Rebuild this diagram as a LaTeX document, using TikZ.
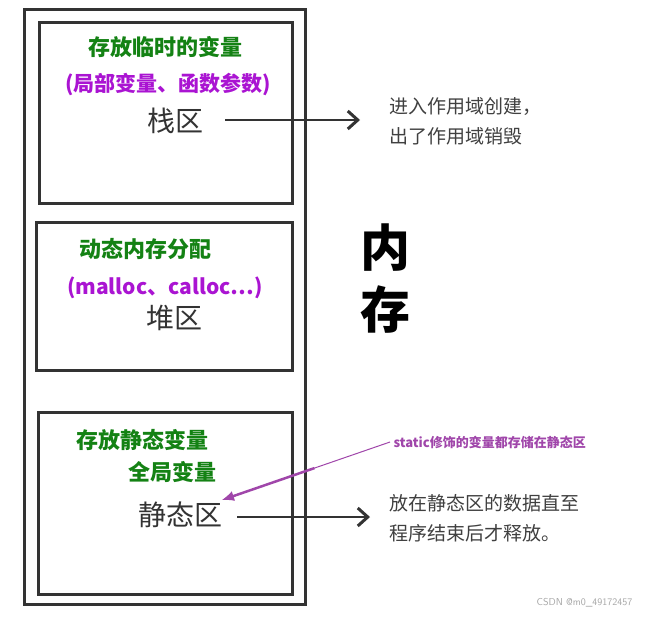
\documentclass[tikz,border=0pt]{standalone}
\usepackage{fontspec}
\newfontfamily\cjk{Noto Sans CJK SC}
\usetikzlibrary{arrows.meta,calc}
\definecolor{hgreen}{RGB}{20,130,20}
\definecolor{hpurp}{RGB}{170,20,210}
\definecolor{spurp}{RGB}{160,70,170}
\begin{document}
\begin{tikzpicture}[x=1pt,y=-1pt,font=\cjk,
  box/.style={draw=black!80,line width=3pt},
  area/.style={font=\cjk\fontsize{28}{30}\selectfont,text=black!80},
  note/.style={font=\cjk\fontsize{19}{30}\selectfont,text=black!75,align=left,anchor=west},
  hg/.style={font=\cjk\bfseries\fontsize{22}{24}\selectfont,text=hgreen},
  hp/.style={font=\cjk\bfseries\fontsize{21}{24}\selectfont,text=hpurp},
  arr/.style={-{Straight Barb[length=10pt,width=18pt,line width=3pt]},line width=2.5pt,draw=black!80}]
\useasboundingbox (0,0) rectangle (648,616);
\fill[white] (0,0) rectangle (648,616);
\draw[box] (24,9) rectangle (305,604);
\draw[box] (39,22) rectangle (292,203);
\draw[box] (36,222) rectangle (292,370);
\draw[box] (38,412) rectangle (292,594);
\node[hg] (g1) at (165,47) {存放临时的变量};
\node[hp] (p1) at (168,84) {(局部变量、函数参数)};
\node[area] (stack) at (175,121) {栈区};
\node[hg] (g2) at (145,249) {动态内存分配};
\node[hp] (p2) at (165,288) {(malloc、calloc…)};
\node[area] (heap) at (174,318) {堆区};
\node[hg] (g3) at (142,440) {存放静态变量};
\node[hg] (g4) at (172,472) {全局变量};
\node[area] (static) at (180,515) {静态区};
\node[font=\cjk\bfseries\fontsize{50}{52}\selectfont] (mem1) at (385,248) {内};
\node[font=\cjk\bfseries\fontsize{50}{52}\selectfont] (mem2) at (385,310) {存};
\node[note] (n1) at (386,121) {进入作用域创建，\\出了作用域销毁};
\node[note] (n2) at (386,518) {放在静态区的数据直至\\程序结束后才释放。};
\node[font=\cjk\bfseries\fontsize{13}{14}\selectfont,text=spurp,anchor=west] (sl) at (390,442) {static修饰的变量都存储在静态区};
\coordinate (s1) at (225,120);
\coordinate (s2) at (237,517);
\coordinate (tip) at (222,500);
\draw[arr] (s1) -- (360,120);
\draw[arr] (s2) -- (370,517);
\draw[-{Latex[length=12pt,width=10pt]},line width=1pt,draw=spurp] (sl.west) -- (tip);
\draw[line width=2.5pt,draw=spurp] ($(sl.west)!0.45!(tip)$) -- ($(sl.west)!0.95!(tip)$);
\node[font=\sffamily\fontsize{10}{10}\selectfont,text=black!35,anchor=east] (wm) at (636,603) {CSDN @m0\_49172457};
\end{tikzpicture}
\end{document}
